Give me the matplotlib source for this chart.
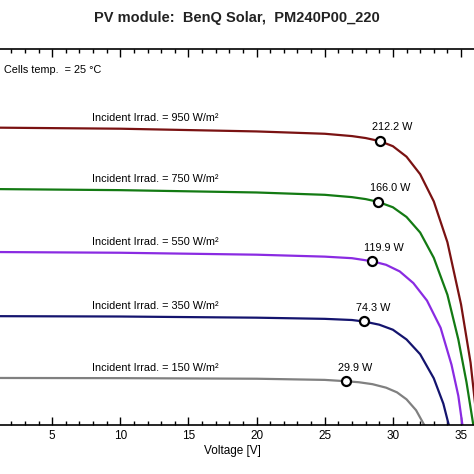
import matplotlib
matplotlib.use("Agg")
import matplotlib.pyplot as plt
from matplotlib.ticker import MultipleLocator

plt.rcParams['font.family'] = ['Liberation Sans', 'DejaVu Sans']

irrads = [950, 750, 550, 350, 150]
colors = ['#7a1212', '#137a13', '#8a2be2', '#14146e', '#808080']
volts = [
    [0, 10, 20, 25, 27, 28, 29.05, 30, 31, 32, 33, 34, 35, 35.7, 36.2],
    [0, 10, 20, 25, 27, 28, 28.9, 30, 31, 32, 33, 34, 34.8, 35.4, 35.9],
    [0, 10, 20, 25, 27, 28.5, 29.5, 30.5, 31.5, 32.5, 33.5, 34.3, 34.8, 35.1],
    [0, 10, 20, 25, 27, 27.9, 29, 30, 31, 32, 33, 33.7, 34.1],
    [0, 10, 20, 25, 26.55, 27.5, 28.5, 29.5, 30.3, 31, 31.7, 32.3],
]
currents = [
    [7.65, 7.62, 7.55, 7.49, 7.43, 7.38, 7.30, 7.17, 6.9, 6.45, 5.75, 4.7, 3.1, 1.6, 0],
    [6.07, 6.04, 5.98, 5.92, 5.86, 5.81, 5.74, 5.6, 5.35, 4.95, 4.3, 3.35, 2.2, 1.1, 0],
    [4.45, 4.43, 4.38, 4.33, 4.29, 4.21, 4.12, 3.95, 3.65, 3.2, 2.5, 1.55, 0.75, 0],
    [2.80, 2.79, 2.76, 2.73, 2.70, 2.66, 2.58, 2.45, 2.2, 1.82, 1.2, 0.55, 0],
    [1.21, 1.205, 1.19, 1.16, 1.126, 1.10, 1.05, 0.96, 0.84, 0.66, 0.38, 0],
]
mpp_v = [29.05, 28.9, 28.5, 27.9, 26.55]
mpp_p = [212.2, 166.0, 119.9, 74.3, 29.9]

fig = plt.figure(figsize=(4.74, 4.74), dpi=100)
ax = fig.add_axes([-16/474, 49/474, 36.5*13.63/474, 376/474])
ax.set_xlim(0, 36.5)
ax.set_ylim(0, 9.67)

for g, c, V, I, vm, pm in zip(irrads, colors, volts, currents, mpp_v, mpp_p):
    ax.plot(V, I, color=c, lw=1.6)
    im = pm / vm
    ax.plot([vm], [im], 'o', ms=6.5, mfc='white', mec='black', mew=1.6, zorder=5)
    ax.text(7.9, I[0] + 0.12, f"Incident Irrad. = {g} W/m²", fontsize=7.8, va='bottom')
    ax.text(vm - 0.6, im + 0.22, f"{pm:.1f} W", fontsize=7.8, va='bottom')

ax.text(1.5, 9.13, "Cells temp.  = 25 °C", fontsize=7.8, va='center')

ax.xaxis.set_major_locator(MultipleLocator(5))
ax.xaxis.set_minor_locator(MultipleLocator(1))
ax.tick_params(axis='x', which='both', direction='in', top=True, labelsize=8.5)
ax.tick_params(axis='x', which='major', length=6, width=1)
ax.tick_params(axis='x', which='minor', length=3, width=1)
ax.set_yticks([])
for s in ax.spines.values():
    s.set_linewidth(1.2)
ax.set_xticks([5, 10, 15, 20, 25, 30, 35])
ax.set_xlabel("Voltage [V]", fontsize=8.5, labelpad=2)

fig.text(0.5, 1 - 18/474, "PV module:  BenQ Solar,  PM240P00_220", ha='center', va='center',
         fontsize=10.5, fontweight='bold', color='#222222')

fig.savefig("out.png", dpi=100)
